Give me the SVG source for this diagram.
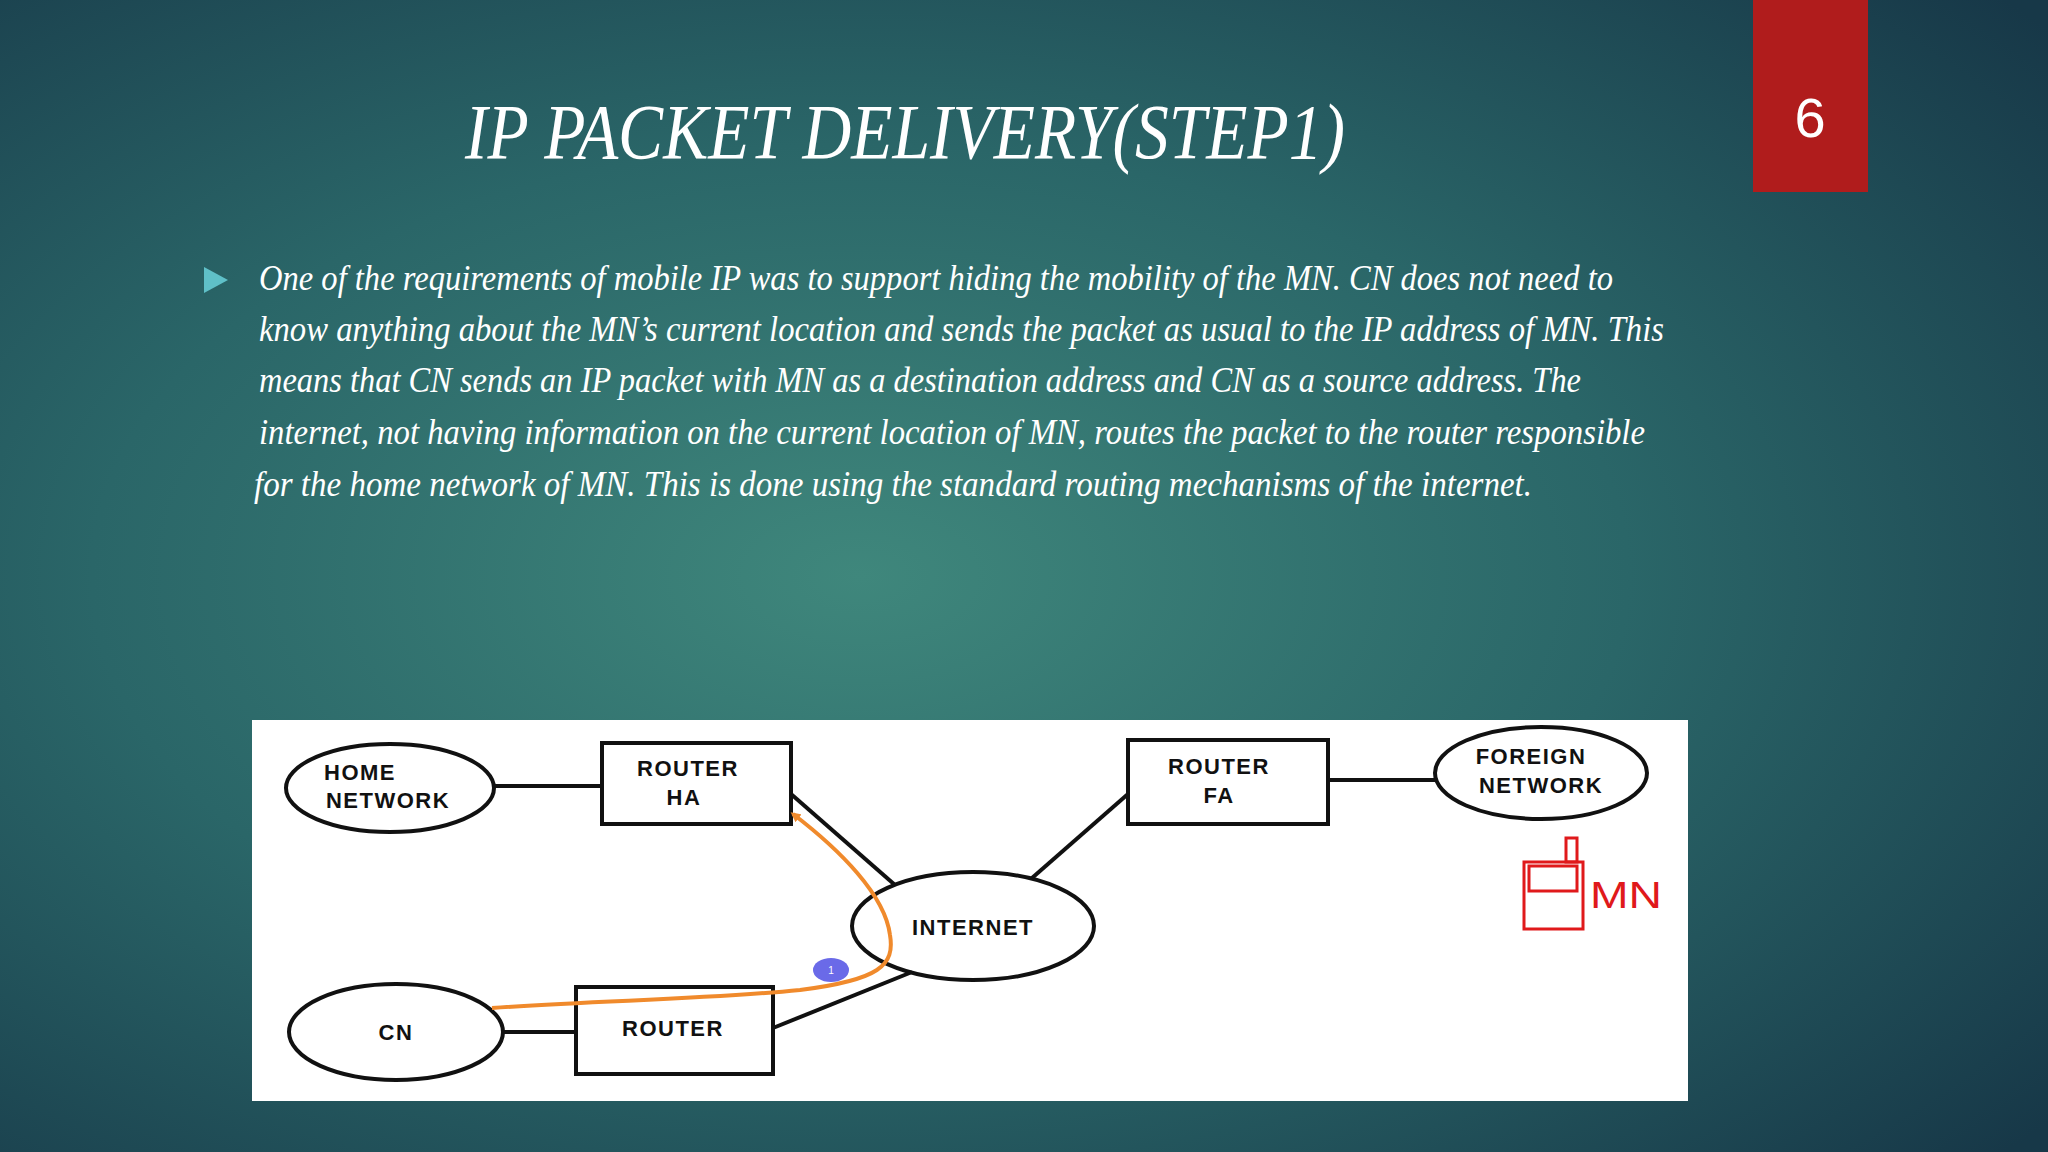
<svg xmlns="http://www.w3.org/2000/svg" width="2048" height="1152" viewBox="0 0 2048 1152">
<defs>
<radialGradient id="bg" cx="0.42" cy="0.5" r="0.75">
<stop offset="0" stop-color="#3f877c"/>
<stop offset="0.5" stop-color="#2a6668"/>
<stop offset="1" stop-color="#173848"/>
</radialGradient>
<marker id="arr" markerWidth="10" markerHeight="10" refX="7" refY="5" orient="auto" markerUnits="userSpaceOnUse">
<path d="M0,0 L10,5 L0,10 z" fill="#f08a2c"/>
</marker>
<style>
.body{font-family:"Liberation Serif",serif;font-style:italic;font-size:35px;fill:#ffffff}
.lbl{font-family:"Liberation Sans",Arial,sans-serif;font-weight:bold;font-size:22px;fill:#111;text-anchor:middle;letter-spacing:1.5px}
.shape{fill:#fff;stroke:#111;stroke-width:4}
.ln{stroke:#111;stroke-width:4;fill:none}
</style>
</defs>
<rect width="2048" height="1152" fill="url(#bg)"/>
<rect x="1753" y="0" width="115" height="192" fill="#b01c1c"/>
<text x="1810" y="137" font-family="Liberation Sans,sans-serif" font-size="56" fill="#fff" text-anchor="middle">6</text>
<text x="905" y="158" font-family="Liberation Serif,serif" font-style="italic" font-size="78" fill="#fff" text-anchor="middle" textLength="880" lengthAdjust="spacingAndGlyphs">IP PACKET DELIVERY(STEP1)</text>
<path d="M204,267 L228,280 L204,293 z" fill="#5fc0c8"/>
<text class="body" x="259" y="290" textLength="1354" lengthAdjust="spacingAndGlyphs">One of the requirements of mobile IP was to support hiding the mobility of the MN. CN does not need to</text>
<text class="body" x="259" y="341" textLength="1405" lengthAdjust="spacingAndGlyphs">know anything about the MN’s current location and sends the packet as usual to the IP address of MN. This</text>
<text class="body" x="259" y="392" textLength="1322" lengthAdjust="spacingAndGlyphs">means that CN sends an IP packet with MN as a destination address and CN as a source address. The</text>
<text class="body" x="259" y="444" textLength="1386" lengthAdjust="spacingAndGlyphs">internet, not having information on the current location of MN, routes the packet to the router responsible</text>
<text class="body" x="254" y="496" textLength="1278" lengthAdjust="spacingAndGlyphs">for the home network of MN. This is done using the standard routing mechanisms of the internet.</text>
<rect x="252" y="720" width="1436" height="381" fill="#fff"/>
<g id="home"><ellipse class="shape" cx="390" cy="788" rx="104" ry="44"/><text class="lbl" x="360" y="780">HOME</text><text class="lbl" x="388" y="808">NETWORK</text></g>
<g id="routerha"><rect class="shape" x="602" y="743" width="189" height="81"/><text class="lbl" x="688" y="776">ROUTER</text><text class="lbl" x="684" y="805">HA</text></g>
<g id="routerfa"><rect class="shape" x="1128" y="740" width="200" height="84"/><text class="lbl" x="1219" y="774">ROUTER</text><text class="lbl" x="1219" y="803">FA</text></g>
<g id="foreign"><ellipse class="shape" cx="1541" cy="773" rx="106" ry="46"/><text class="lbl" x="1531" y="764">FOREIGN</text><text class="lbl" x="1541" y="793">NETWORK</text></g>
<g id="internet"><ellipse class="shape" cx="973" cy="926" rx="121" ry="54"/><text class="lbl" x="973" y="935">INTERNET</text></g>
<g id="cn"><ellipse class="shape" cx="396" cy="1032" rx="107" ry="48"/><text class="lbl" x="396" y="1040">CN</text></g>
<g id="router"><rect class="shape" x="576" y="987" width="197" height="87"/><text class="lbl" x="673" y="1036">ROUTER</text></g>
<g id="connectors">
<line class="ln" x1="495" y1="786" x2="602" y2="786"/>
<line class="ln" x1="1328" y1="780" x2="1437" y2="780"/>
<line class="ln" x1="791" y1="794" x2="895" y2="885"/>
<line class="ln" x1="1128" y1="794" x2="1032" y2="878"/>
<line class="ln" x1="912" y1="972" x2="773" y2="1028"/>
<line class="ln" x1="503" y1="1032" x2="576" y2="1032"/>
<path d="M492,1008 C600,1000 700,1000 800,990 C880,980 895,965 890,935 C885,895 840,850 793,814" fill="none" stroke="#f08a2c" stroke-width="4" marker-end="url(#arr)"/>
</g>
<g id="badge"><ellipse cx="831" cy="970" rx="18" ry="12" fill="#6a6ae8"/><text x="831" y="974" font-family="Liberation Sans,sans-serif" font-size="10" fill="#fff" text-anchor="middle">1</text></g>
<g id="mn" fill="none" stroke="#e0191b" stroke-width="3">
<rect x="1566" y="838" width="11" height="24"/>
<rect x="1524" y="862" width="59" height="67"/>
<rect x="1529" y="866" width="48" height="25"/>
<text x="1590" y="908" font-family="Liberation Sans,sans-serif" font-size="36" fill="#e0191b" stroke="none" textLength="72" lengthAdjust="spacingAndGlyphs">MN</text>
</g>
</svg>
